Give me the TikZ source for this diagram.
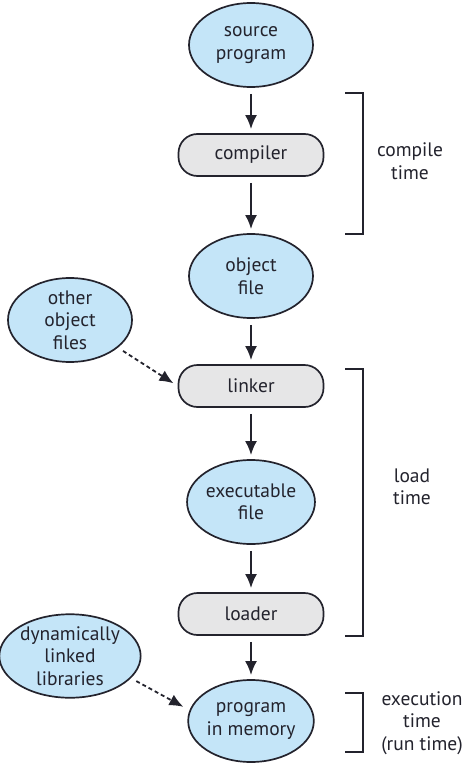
\documentclass[tikz,border=0pt]{standalone}
\usepackage{fontspec}
\setmainfont{PT Sans}
\usetikzlibrary{arrows.meta,shapes.geometric}
\definecolor{fileblue}{RGB}{196,229,248}
\definecolor{toolgray}{RGB}{230,230,231}
\definecolor{inkdark}{RGB}{35,35,45}

\begin{document}
\begin{tikzpicture}[x=1pt, y=-1pt,
  filenode/.style={ellipse, draw=inkdark, line width=1.7pt, fill=fileblue,
    minimum width=124pt, minimum height=84pt, inner sep=0pt, align=center,
    text=inkdark, font=\fontsize{19.5}{22.5}\selectfont},
  toolbox/.style={rectangle, rounded corners=19pt, draw=inkdark, line width=1.7pt,
    fill=toolgray, minimum width=145pt, minimum height=42pt, inner sep=0pt,
    text=inkdark, font=\fontsize{19.5}{22.5}\selectfont},
  flowarrow/.style={-{Latex[length=14pt,width=12pt]}, inkdark, line width=2.2pt,
    shorten <=6pt, shorten >=4pt},
  linkarrow/.style={flowarrow, line width=1.8pt, dash pattern=on 4pt off 3pt},
  bracket/.style={inkdark, line width=2.2pt},
  phaselabel/.style={align=center, text=inkdark, font=\fontsize{19.5}{22.5}\selectfont}]
\useasboundingbox (0,0) rectangle (474,776);
\node[filenode] (source) at (251,45) {source\\program};
\node[toolbox] (compiler) at (251,155) {compiler};
\node[filenode] (object) at (251,276) {object\\file};
\node[filenode] (others) at (70,320) {other\\object\\files};
\node[toolbox] (linker) at (251,386) {linker};
\node[filenode] (executable) at (251,502) {executable\\file};
\node[toolbox] (loader) at (251,614) {loader};
\node[filenode, minimum height=82pt] (memory) at (251,721) {program\\in memory};
\node[filenode, minimum height=82pt] (dynamic) at (70,656) {dynamically\\linked\\libraries};
\draw[flowarrow] (source) -- (compiler);
\draw[flowarrow] (compiler) -- (object);
\draw[flowarrow] (object) -- (linker);
\draw[flowarrow] (linker) -- (executable);
\draw[flowarrow] (executable) -- (loader);
\draw[flowarrow] (loader) -- (memory);
\draw[linkarrow, shorten >=5pt] (others.-30) -- (linker.west);
\draw[linkarrow, shorten >=7pt] (dynamic.-20) -- (memory.170);
\draw[bracket] (345,93) -| (363,234) -- (345,234);
\draw[bracket] (345,369) -| (363,636) -- (345,636);
\draw[bracket] (345,693) -| (363,752) -- (345,752);
\node[phaselabel] (compile) at (410,161) {compile\\time};
\node[phaselabel] (load) at (412,487) {load\\time};
\node[phaselabel] (execution) at (422,723) {execution\\time\\(run time)};
\end{tikzpicture}
\end{document}
